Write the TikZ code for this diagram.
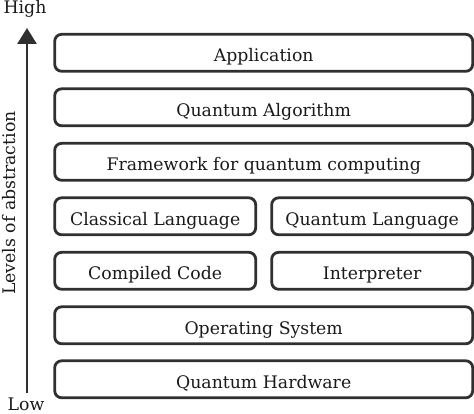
\documentclass[tikz,border=0pt]{standalone}
\usepackage{fontspec}
\setmainfont{DejaVu Serif}
\usetikzlibrary{arrows.meta}
\definecolor{boxline}{HTML}{303030}
\definecolor{txt}{HTML}{1A1A1A}
\begin{document}
\begin{tikzpicture}[x=1pt,y=-1pt,
  layer/.style={draw=boxline, line width=2.8pt, rounded corners=7pt, minimum height=37pt, inner sep=0pt, text height=18pt, text depth=0pt, anchor=west, text=txt, font=\fontsize{17.3}{20}\selectfont},
  lbl/.style={text=txt, font=\fontsize{17.3}{20}\selectfont, inner sep=0pt}]
\useasboundingbox (0,0) rectangle (474,414);
\node[layer, minimum width=418pt] (app) at (53.3,52.8) {Application};
\node[layer, minimum width=418pt] (qalg) at (53.3,107.3) {Quantum Algorithm};
\node[layer, minimum width=418pt] (fw) at (53.3,161.8) {Framework for quantum computing};
\node[layer, minimum width=201pt] (cl) at (53.3,216.3) {Classical Language};
\node[layer, minimum width=201pt] (ql) at (270.3,216.3) {Quantum Language};
\node[layer, minimum width=201pt] (cc) at (53.3,270.8) {Compiled Code};
\node[layer, minimum width=201pt] (ip) at (270.3,270.8) {Interpreter};
\node[layer, minimum width=418pt] (os) at (53.3,325.3) {Operating System};
\node[layer, minimum width=418pt] (hw) at (53.3,379.3) {Quantum Hardware};
\coordinate (lowend) at (27,393);
\coordinate (highend) at (27,28);
\draw[draw=boxline, line width=2.8pt, -{Triangle[width=19pt,length=16pt]}] (lowend) -- (highend);
\node[lbl, anchor=base] (high) at (25,14) {High};
\node[lbl, anchor=base] (low) at (26,410) {Low};
\node[lbl, rotate=90] (levels) at (9,203) {Levels of abstraction};
\end{tikzpicture}
\end{document}
